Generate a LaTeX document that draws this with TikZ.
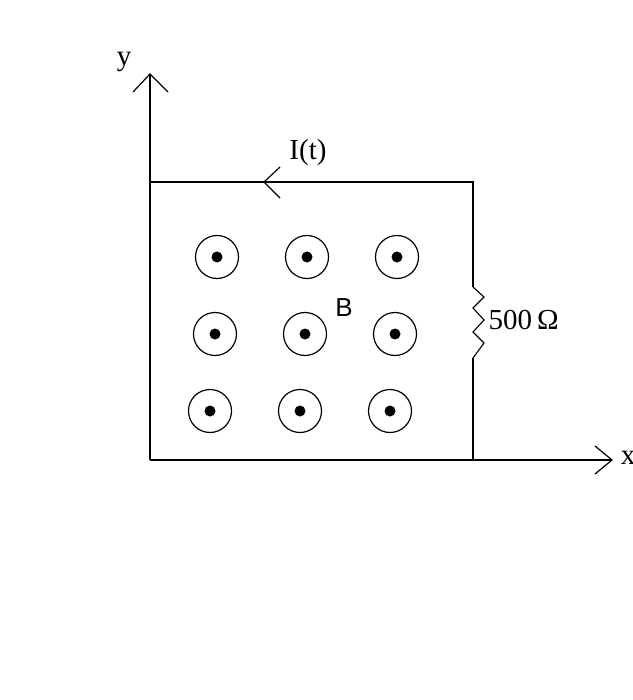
\documentclass[tikz,border=0pt]{standalone}
\usepackage{fontspec}
\setmainfont{Liberation Serif}
\setsansfont{Liberation Sans}
\begin{document}
\begin{tikzpicture}[x=1pt,y=-1pt,line width=1.4pt,
  lbl/.style={font=\fontsize{29}{34}\selectfont,inner sep=0pt},
  dotc/.style={circle,draw,line width=1.2pt,minimum size=43pt,inner sep=0pt},
  open/.style={line width=1.2pt}]
\useasboundingbox (0,0) rectangle (632,700);
\coordinate (O) at (150,460);
\coordinate (Y) at (150,74);
\coordinate (X) at (612,460);
\coordinate (TL) at (150,182);
\coordinate (TR) at (473,182);
\coordinate (BR) at (473,460);
\coordinate (R1) at (473,287);
\coordinate (R2) at (473,358);
\draw (O) -- (Y);
\draw[open] (133,92) -- (Y) -- (168,92);
\draw (O) -- (X);
\draw[open] (595,446) -- (X) -- (595,474);
\draw (TL) -- (TR) -- (R1);
\draw[line width=1.1pt] (R1) -- (484,297) -- (473,308) -- (484,320) -- (473,332) -- (484,343) -- (R2);
\draw (R2) -- (BR) -- (O);
\coordinate (A) at (264,182);
\draw[open] (280,167) -- (A) -- (280,198);
\node[lbl] (ylab) at (124,62) {y};
\node[lbl] (xlab) at (628,458) {x};
\node[lbl] (cur) at (308,153) {I(t)};
\node[lbl,anchor=west] (res) at (488,320) {500\,Ω};
\node[lbl,font=\sffamily\fontsize{26}{30}\selectfont] (B) at (344,308) {B};
\foreach \x/\y [count=\i] in {217/257,307/257,397/257,215/334,305/334,395/334,210/411,300/411,390/411}{
  \node[dotc] (c\i) at (\x,\y) {};
  \fill (c\i.center) circle (5.5pt);
}
\end{tikzpicture}
\end{document}
